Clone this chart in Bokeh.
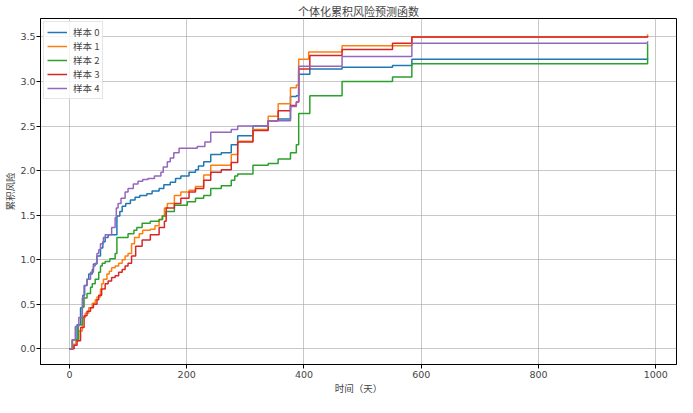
import math
from bokeh.plotting import figure
from bokeh.models import Range1d, FixedTicker, Legend, LegendItem
from bokeh.embed import file_html
from bokeh.resources import INLINE

FONT = "Noto Sans CJK SC"
NUMFONT = "DejaVu Sans"

labels = ["样本 0", "样本 1", "样本 2", "样本 3", "样本 4"]
colors = ["#1f77b4", "#ff7f0e", "#2ca02c", "#d62728", "#9467bd"]

t0 = [0, 5, 13, 19, 23, 26, 30, 33, 39, 41, 47, 53, 57, 61, 66, 81, 86, 90, 96, 104,
      112, 120, 132, 141, 153, 161, 172, 181, 190, 204, 215, 220, 229, 241, 259, 276, 287, 313, 339, 356,
      377, 387, 391, 410, 465, 551, 584, 986]
v0 = [0, .10, .27, .46, .60, .71, .78, .84, .89, .95, 1.04, 1.13, 1.20, 1.25, 1.28, 1.49, 1.54, 1.60, 1.63, 1.67,
      1.70, 1.72, 1.74, 1.77, 1.80, 1.84, 1.87, 1.91, 1.94, 1.98, 2.01, 2.05, 2.10, 2.18, 2.20, 2.29, 2.39, 2.50, 2.56, 2.58,
      2.83, 2.84, 3.08, 3.14, 3.16, 3.18, 3.25, 3.26]

t1 = [0, 7, 11, 16, 22, 27, 33, 39, 44, 47, 53, 55, 58, 64, 68, 72, 78, 84, 90, 95,
      100, 106, 111, 119, 125, 138, 146, 153, 158, 162, 167, 179, 190, 204, 215, 229, 241, 276, 287, 313,
      339, 356, 377, 387, 391, 408, 465, 584, 986]
v1 = [0, .05, .09, .20, .35, .40, .46, .51, .55, .58, .67, .73, .78, .84, .87, .91, .93, .96, 1.00, 1.04,
      1.07, 1.18, 1.25, 1.29, 1.33, 1.34, 1.38, 1.45, 1.49, 1.58, 1.63, 1.72, 1.76, 1.78, 1.82, 1.95, 2.06, 2.18, 2.33, 2.46,
      2.61, 2.75, 2.93, 2.96, 3.25, 3.33, 3.40, 3.50, 3.53]

t2 = [0, 5, 15, 22, 25, 30, 36, 39, 44, 50, 53, 56, 61, 69, 78, 81, 100, 110, 115, 124,
      138, 153, 159, 165, 179, 201, 215, 229, 241, 259, 276, 282, 287, 313, 339, 356, 377, 387, 391, 410,
      465, 551, 584, 986]
v2 = [0, .10, .27, .47, .57, .62, .69, .73, .78, .86, .93, .96, .98, 1.01, 1.07, 1.25, 1.29, 1.33, 1.36, 1.41,
      1.43, 1.45, 1.49, 1.54, 1.61, 1.65, 1.69, 1.72, 1.80, 1.83, 1.89, 1.94, 1.96, 2.06, 2.08, 2.13, 2.20, 2.29, 2.64, 2.84,
      3.00, 3.05, 3.20, 3.42]

t3 = [0, 8, 13, 19, 25, 30, 36, 41, 47, 50, 55, 61, 66, 72, 78, 84, 90, 95, 100, 106,
      113, 124, 138, 153, 162, 165, 179, 190, 204, 215, 229, 241, 259, 276, 287, 313, 339, 356, 377, 387,
      391, 410, 465, 551, 584, 986]
v3 = [0, .04, .09, .24, .37, .42, .46, .50, .55, .60, .67, .73, .76, .80, .82, .86, .89, .93, .96, 1.04,
      1.15, 1.22, 1.28, 1.36, 1.43, 1.58, 1.63, 1.69, 1.76, 1.80, 1.89, 1.98, 2.01, 2.09, 2.32, 2.45, 2.56, 2.67, 2.73, 2.77,
      3.14, 3.29, 3.36, 3.43, 3.50, 3.51]

t4 = [0, 5, 10, 16, 22, 25, 30, 36, 41, 44, 47, 50, 53, 58, 61, 72, 78, 80, 83, 88,
      95, 100, 109, 117, 125, 134, 145, 156, 160, 167, 172, 178, 187, 218, 231, 241, 276, 287, 339, 377,
      387, 391, 465, 584, 986]
v4 = [0, .10, .25, .35, .57, .71, .78, .86, .93, .96, 1.07, 1.11, 1.18, 1.25, 1.28, 1.36, 1.47, 1.58, 1.63, 1.69,
      1.76, 1.80, 1.85, 1.88, 1.90, 1.91, 1.94, 1.98, 2.04, 2.10, 2.14, 2.20, 2.25, 2.27, 2.32, 2.43, 2.46, 2.50, 2.56, 2.72,
      2.77, 3.17, 3.28, 3.43, 3.45]

x_ticks = [0, 200, 400, 600, 800, 1000]
y_ticks = [0.0, 0.5, 1.0, 1.5, 2.0, 2.5, 3.0, 3.5]

series_t = [t0, t1, t2, t3, t4]
series_v = [v0, v1, v2, v3, v4]

tmax = max(max(t) for t in series_t)
vmax = max(max(v) for v in series_v)

W, H = 677, 397
p = figure(width=W, height=H, output_backend="svg", toolbar_location=None,
           x_range=Range1d(-0.05 * tmax, tmax * 1.05),
           y_range=Range1d(-0.05 * vmax, vmax * 1.05),
           min_border_left=34, min_border_right=1, min_border_top=14, min_border_bottom=28)

p.title.text = "个体化累积风险预测函数"
p.title.align = "center"
p.title.text_font = FONT
p.title.text_font_size = "11px"
p.title.text_font_style = "normal"
p.title.standoff = 0
p.title.offset = 0

items = []
for t, v, c, lab in zip(series_t, series_v, colors, labels):
    r = p.step(t, v, mode="after", line_color=c, line_width=1.5)
    items.append(LegendItem(label=lab, renderers=[r]))

legend = Legend(items=items, location="top_left",
                label_text_font=FONT, label_text_font_size="9.5px",
                glyph_width=20, glyph_height=10, label_height=10, spacing=0,
                padding=3, margin=3, label_standoff=6,
                border_line_color="#cccccc", border_line_width=1,
                background_fill_alpha=0.8)
p.add_layout(legend, "center")

for ax in (p.xaxis[0], p.yaxis[0]):
    ax.major_label_text_font = NUMFONT
    ax.major_label_text_font_size = "9.5px"
    ax.axis_label_text_font = FONT
    ax.axis_label_text_font_size = "9.5px"
    ax.axis_label_text_font_style = "normal"
    ax.major_tick_out = 4
    ax.major_tick_in = 0
    ax.minor_tick_out = 0
    ax.minor_tick_in = 0
    ax.axis_line_color = "black"
    ax.major_label_standoff = 2
    ax.axis_label_standoff = 0

p.yaxis.major_label_standoff = 1
p.xaxis.ticker = FixedTicker(ticks=x_ticks)
p.yaxis.ticker = FixedTicker(ticks=y_ticks)
p.yaxis.major_label_overrides = {t: f"{t:.1f}" for t in y_ticks}
p.xaxis.axis_label = "时间（天）"
p.yaxis.axis_label = "累积风险"

p.xgrid.ticker = FixedTicker(ticks=x_ticks)
p.ygrid.ticker = FixedTicker(ticks=y_ticks)
p.grid.grid_line_color = "#b0b0b0"
p.grid.grid_line_alpha = 0.7
p.grid.grid_line_width = 1

p.outline_line_color = "black"
p.outline_line_width = 1
p.background_fill_color = "white"
p.border_fill_color = "white"

open("out.html", "w").write(file_html(p, INLINE))
